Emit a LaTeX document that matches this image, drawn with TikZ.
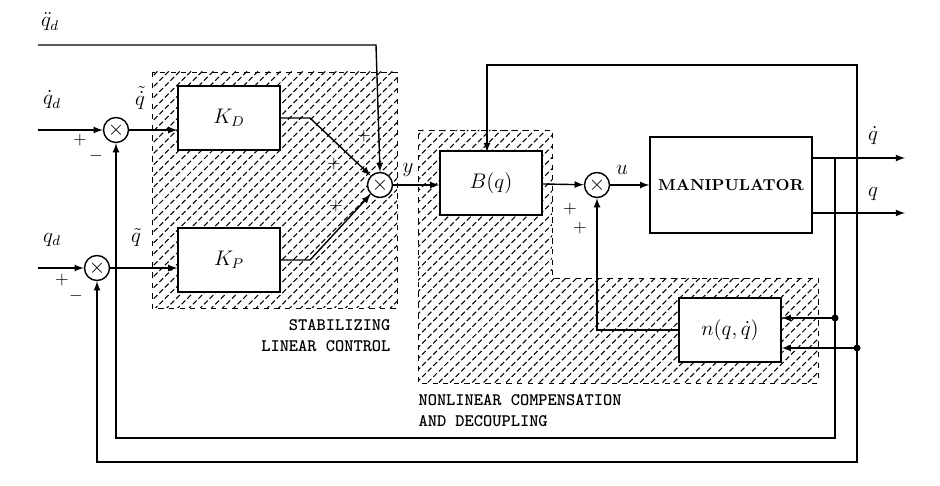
\documentclass[tikz,border=0pt]{standalone}
\usepackage{amsmath}
\usetikzlibrary{positioning, patterns.meta}
\begin{document}
\begin{tikzpicture}[x=0.02cm,y=-0.02cm,>=latex,font=\large\bfseries,thick]
    \tikzstyle{blk}=[draw=black,thick,fill=white,minimum width=2.04cm,minimum height=1.28cm]
    \tikzstyle{sum}=[draw=black,thick,fill=white,circle,minimum size=0.5cm,inner sep=0pt]
    \tikzstyle{hatch}=[pattern={Lines[angle=45,distance=4.5pt,line width=0.6pt]},draw=black,dashed,thin]
    \tikzstyle{sign}=[font=\bfseries,inner sep=0pt]
    \useasboundingbox (0,0) rectangle (940,486);

    % shaded regions
    \path[hatch] (152,72) rectangle (397,308);
    \path[hatch] (418,130) -- (552,130) -- (552,278) -- (818,278) -- (818,383) -- (418,383) -- cycle;

    \node[blk] (KD) at (229,118) {$K_D$};
    \node[blk] (KP) at (229,260) {$K_P$};
    \node[blk] (B) at (491,183) {$B(q)$};
    \node[blk,minimum width=3.24cm,minimum height=1.92cm,font=\small\bfseries] (M) at (731,185) {MANIPULATOR};
    \node[blk] (N) at (730,330) {$n(q,\dot q)$};

    \node[sum] (s1) at (116,130) {$\times$};
    \node[sum] (s2) at (97,268) {$\times$};
    \node[sum] (s3) at (380,185) {$\times$};
    \node[sum] (s4) at (597,185) {$\times$};

    \coordinate (qd1) at (38,130);
    \coordinate (qd2) at (38,268);
    \coordinate (qdd) at (38,45);
    \coordinate (o1) at (905,158);
    \coordinate (o2) at (905,213);
    \coordinate (t1) at (835,318);
    \coordinate (t2) at (857,348);

    \node at (50,22) {$\ddot q_d$};
    \node at (52,100) {$\dot q_d$};
    \node at (52,240) {$q_d$};
    \node at (140,98) {$\tilde{\dot q}$};
    \node at (136,238) {$\tilde q$};
    \node at (408,170) {$y$};
    \node at (622,170) {$u$};
    \node at (873,136) {$\dot q$};
    \node at (873,194) {$q$};

    \draw[->] (qd1) -- (s1);
    \draw[->] (qd2) -- (s2);
    \draw[->] (qdd) -- (376,45) -- (s3.north);
    \draw[->] (s1) -- (s1 -| KD.west);
    \draw[->] (s2) -- (s2 -| KP.west);
    \draw[->] (KD.east) -- (310,118) -- (s3.north west);
    \draw[->] (KP.east) -- (310,260) -- (s3.south west);
    \draw[->] (s3) -- (s3 -| B.west);
    \draw[->] (B) -- (s4);
    \draw[->] (s4) -- (M);
    \draw[->] (M.east |- o1) -- (o1);
    \draw[->] (M.east |- o2) -- (o2);
    \draw[->] (N.west) -- (597,330) -- (s4.south);
    \draw[->] (835,158) -- (835,438) -- (116,438) -- (s1.south);
    \draw[->] (857,213) -- (857,462) -- (97,462) -- (s2.south);
    \draw[->] (857,213) -- (857,65) -- (487,65) -- (487,152);
    \fill (t1) circle (2pt) (t2) circle (2pt);
    \draw[->] (t1) -- (N.east |- t1);
    \draw[->] (t2) -- (N.east |- t2);

    % signs
    \node[sign] at (80,140) {$+$};
    \node[sign] at (96,156) {$-$};
    \node[sign] at (62,280) {$+$};
    \node[sign] at (76,296) {$-$};
    \node[sign] at (364,136) {$+$};
    \node[sign] at (334,164) {$+$};
    \node[sign] at (336,206) {$+$};
    \node[sign] at (570,209) {$+$};
    \node[sign] at (580,228) {$+$};

    \node[align=right,anchor=north east,font=\ttfamily\bfseries] at (397,313) {STABILIZING\\LINEAR CONTROL};
    \node[align=left,anchor=north west,font=\ttfamily\bfseries] at (412,388) {NONLINEAR COMPENSATION\\AND DECOUPLING};
\end{tikzpicture}
\end{document}
